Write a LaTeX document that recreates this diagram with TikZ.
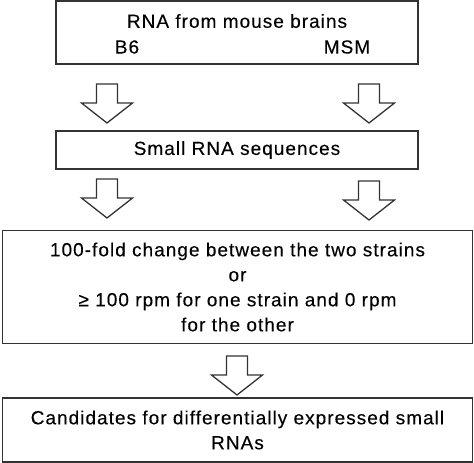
\documentclass[tikz,border=0pt]{standalone}
\usepackage{fontspec}
\setmainfont{Liberation Sans}[LetterSpace=5.4,FakeBold=0.2]
\usetikzlibrary{positioning}

\tikzset{
  box/.style={draw=black!80,line width=1.5pt,inner sep=0pt},
  label/.style={font=\fontsize{19}{25}\selectfont,inner sep=0pt,align=center},
}
% hollow block arrow hanging from a named coordinate
\newcommand{\blockarrow}[1]{%
  \draw[black!80,line width=1.3pt,line join=miter]
    (#1) ++(-10.5,0) -- ++(0,-19) -- ++(-15,0) -- ++(25.5,-20)
    -- ++(25.5,20) -- ++(-15,0) -- ++(0,19) -- cycle;}

\begin{document}
\begin{tikzpicture}[x=1pt,y=1pt]
  \useasboundingbox (0,0) rectangle (474,-463);
  % boxes
  \node[box,minimum width=362,minimum height=63] (rna) at (237,-32.5) {};
  \node[label] (rnatxt) at (237,-21) {RNA from mouse brains};
  \node[label] (b6) at (127,-47) {B6};
  \node[label] (msm) at (347,-47) {MSM};
  \node[box,minimum width=362,minimum height=38,label] (seq) at (237,-150) {Small RNA sequences};
  \node[box,minimum width=470,minimum height=113,label] (crit) at (237.5,-287)
    {100-fold change between the two strains\\or\\
     ≥ 100 rpm for one strain and 0 rpm\\for the other};
  \node[box,minimum width=470,minimum height=64,label] (cand) at (237.5,-430)
    {Candidates for differentially expressed small\\RNAs};
  % block arrows between boxes
  \coordinate (a1) at (107,-84);
  \coordinate (a2) at (369,-84);
  \coordinate (a3) at (107,-179);
  \coordinate (a4) at (369,-181);
  \coordinate (a5) at (237,-356);
  \foreach \a in {a1,a2,a3,a4,a5} {\blockarrow{\a}}
\end{tikzpicture}
\end{document}
